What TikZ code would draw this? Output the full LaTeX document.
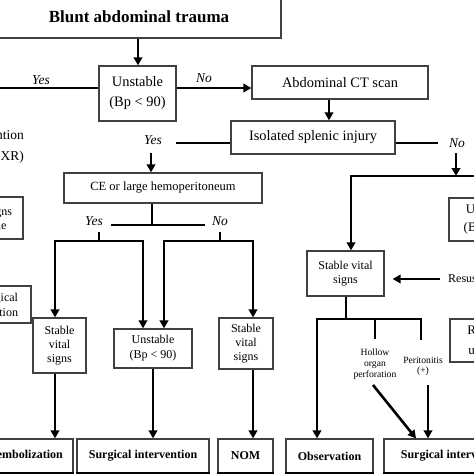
\documentclass[tikz,border=0pt]{standalone}
\usepackage{fontspec}
\setmainfont{Liberation Serif}
\usetikzlibrary{arrows.meta}
\begin{document}
\begin{tikzpicture}[x=1pt,y=-1pt,
  box/.style={draw=black!75, line width=1.2pt, align=center, inner sep=0pt},
  conn/.style={line width=2.6pt, line join=miter},
  arr/.style={conn, -{Triangle[length=8pt,width=8.5pt]}},
  tbig/.style={font=\fontsize{17}{20}\selectfont\bfseries},
  tfour/.style={font=\fontsize{14.4}{20}\selectfont},
  ttwelve/.style={font=\fontsize{12}{14}\selectfont},
  tmid/.style={font=\fontsize{12}{15}\selectfont},
  tbot/.style={font=\fontsize{12}{14}\selectfont\bfseries},
  tsmall/.style={font=\fontsize{9.6}{11}\selectfont},
  lab/.style={font=\fontsize{13.5}{16}\selectfont\itshape, inner sep=0pt},
  botbox/.style={box, tbot, minimum height=34},
  thickbot/.style={line width=2.6pt}
]
\useasboundingbox (0,0) rectangle (474,474);
\clip (0,0) rectangle (474,474);
\fill[white] (0,0) rectangle (474,474);

% boxes
\node[box, tbig, minimum width=284, minimum height=42] (blunt) at (139,17) {Blunt abdominal trauma};
\node[box, tfour, minimum width=77, minimum height=55] (unst1) at (137.5,93.5) {Unstable\\(Bp < 90)};
\node[box, tfour, minimum width=176, minimum height=33] (ct) at (340,82.5) {Abdominal CT scan};
\node[box, tfour, minimum width=164, minimum height=33] (iso) at (313,137.5) {Isolated splenic injury};
\node[box, font=\fontsize{12.5}{14}\selectfont, minimum width=198, minimum height=30] (ce) at (163,188) {CE or large hemoperitoneum};

\node[font=\fontsize{13.5}{21}\selectfont, anchor=east, align=right, inner sep=0pt] (lt) at (24,146.5) {intervention\\(FAST, CXR)};
\node[box, ttwelve, minimum width=73, minimum height=42] (lb1) at (-13.5,218) {Vital signs\\unstable};
\node[box, tmid, minimum width=84, minimum height=37, align=right] (lb2) at (-11,304.5) {Surgical\\intervention};

\node[box, ttwelve, minimum width=53, minimum height=55] (stabl) at (59.5,345.5) {Stable\\vital\\signs};
\node[box, tmid, minimum width=78, minimum height=39] (unstm) at (153,348.5) {Unstable\\(Bp < 90)};
\node[box, ttwelve, minimum width=54, minimum height=51] (stabm) at (246,343.5) {Stable\\vital\\signs};
\node[box, ttwelve, minimum width=77, minimum height=45] (stabr) at (345.5,273.5) {Stable vital\\signs};
\node[box, font=\fontsize{13}{18}\selectfont, minimum width=80, minimum height=43] (unstr) at (489,219.5) {Unstable\\(Bp < 90)};
\node[box, font=\fontsize{13}{20}\selectfont, minimum width=80, minimum height=43] (remr) at (490,340.5) {Remains\\unstable};
\node[ttwelve, anchor=west, inner sep=0pt] (resus) at (448,279) {Resuscitation};

\node[tsmall, align=center, inner sep=0pt] (hollow) at (375,364) {Hollow\\organ\\perforation};
\node[font=\fontsize{9.6}{10}\selectfont, align=center, inner sep=0pt] (perit) at (423,366) {Peritonitis\\(+)};

% bottom boxes
\node[botbox, minimum width=117] (embol) at (14.5,456) {Angioembolization};
\node[botbox, minimum width=132] (surg1) at (143,456) {Surgical intervention};
\node[botbox, minimum width=55] (nom) at (245.5,456) {NOM};
\node[botbox, minimum width=87] (obs) at (329.5,456) {Observation};
\node[botbox, minimum width=142] (surg2) at (455,456) {Surgical intervention};
\foreach \b in {embol,surg1,nom,obs,surg2}
  \draw[thickbot] (\b.south west) -- (\b.south east);

% labels
\node[lab] (l1) at (41,80) {Yes};
\node[lab] (l2) at (204,78) {No};
\node[lab] (l3) at (153,140) {Yes};
\node[lab] (l4) at (457,143) {No};
\node[lab] (l5) at (94,221) {Yes};
\node[lab] (l6) at (220,221) {No};

% top connectors
\draw[arr] (blunt.south -| 138,0) -- (unst1.north -| 138,0);
\coordinate (yesend) at (-10,88);
\draw[conn] (unst1.west |- 0,88) -- (yesend);
\draw[arr] (unst1.east |- 0,88) -- (ct.west |- 0,88);
\draw[arr] (ct.south -| 329,0) -- (iso.north -| 329,0);

\coordinate (isoY) at (176,143);
\draw[conn] (iso.west |- 0,143) -- (isoY);
\coordinate (isoYa) at (151,153);
\draw[arr] (isoYa) -- (ce.north -| isoYa);

\coordinate (isoN) at (438,143);
\draw[conn] (iso.east |- 0,143) -- (isoN);
\coordinate (isoNa) at (456,153);
\coordinate (rbar) at (456,176);
\coordinate (rbarR) at (480,176);
\coordinate (rbarL) at (351,176);
\draw[arr] (isoNa) -- (rbar);
\draw[arr] (rbarR) -- (rbarL) -- (stabr.north -| rbarL);

\coordinate (rsA) at (440,279);
\draw[arr, shorten >=8pt] (rsA) -- (stabr.east |- rsA);

% CE fork
\coordinate (ceJ) at (152,225);
\draw[conn] (ce.south -| ceJ) -- (ceJ);
\coordinate (ceL) at (111,225);
\coordinate (ceR) at (205,225);
\draw[conn] (ceL) -- (ceR);
\coordinate (yT) at (99,232);
\coordinate (yB) at (99,241);
\draw[conn] (yT) -- (yB);
\coordinate (yl) at (55,241);
\coordinate (yr) at (143,241);
\draw[arr] (yr) -- (yl) -- (stabl.north -| yl);
\draw[arr] (yl) -- (yr) -- (unstm.north -| yr);
\coordinate (nT) at (220,232);
\coordinate (nB) at (220,241);
\draw[conn] (nT) -- (nB);
\coordinate (nl) at (164,241);
\coordinate (nr) at (253,241);
\draw[arr] (nr) -- (nl) -- (unstm.north -| nl);
\draw[arr] (nl) -- (nr) -- (stabm.north -| nr);

\draw[arr] (stabl.south -| yl) -- (embol.north -| yl);
\draw[arr] (unstm.south) -- (surg1.north -| unstm.south);
\draw[arr] (stabm.south -| nr) -- (nom.north -| nr);

% right tree
\coordinate (rJ) at (346,319);
\draw[conn] (stabr.south -| rJ) -- (rJ);
\coordinate (rL) at (317,319);
\coordinate (rM) at (375,319);
\coordinate (rR) at (421,319);
\coordinate (rMb) at (375,339);
\coordinate (rRb) at (421,340);
\draw[conn] (rL) -- (rR) -- (rRb);
\draw[arr] (rR) -- (rL) -- (obs.north -| rL);
\draw[conn] (rM) -- (rMb);
\coordinate (dg) at (373,385);
\draw[arr] (dg) -- (surg2.north -| 416,0);
\coordinate (pv) at (428,385);
\draw[arr] (pv) -- (surg2.north -| pv);
\end{tikzpicture}
\end{document}
